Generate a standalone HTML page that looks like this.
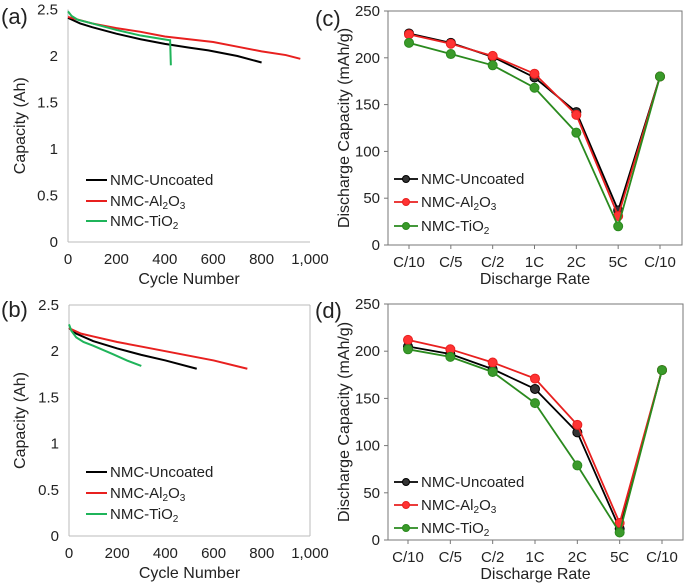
<!DOCTYPE html>
<html><head><meta charset="utf-8"><style>
body{margin:0;background:#fff;}
svg{display:block;font-family:"Liberation Sans",sans-serif;}
</style></head><body>
<svg id="c" width="685" height="586"></svg>
<script>
const cats=["C/10","C/5","C/2","1C","2C","5C","C/10"];
const cUnc=[226,216,201,179,142,37,180];
const cAl=[225,215,202,183,139,31,180];
const cTi=[216,204,192,168,120,20,180];
const dUnc=[205,197,181,160,114,12,180];
const dAl=[212,202,188,171,122,18,180];
const dTi=[202,194,178,145,79,8,180];
const aUncX=[0,50,100,200,300,400,500,580,700,800];
const aUncY=[2.41,2.35,2.31,2.24,2.18,2.13,2.09,2.06,2.00,1.93];
const aAlX=[0,100,200,300,400,500,600,700,800,900,960];
const aAlY=[2.42,2.35,2.30,2.26,2.21,2.18,2.15,2.10,2.05,2.01,1.97];
const aTiX=[0,15,40,100,200,300,420,422,425];
const aTiY=[2.48,2.43,2.39,2.35,2.28,2.22,2.17,2.17,1.90];
const bUncX=[0,30,100,200,300,400,530];
const bUncY=[2.25,2.19,2.11,2.03,1.96,1.90,1.81];
const bAlX=[0,50,100,200,300,400,500,600,740];
const bAlY=[2.25,2.19,2.16,2.10,2.05,2.00,1.95,1.90,1.81];
const bTiX=[0,10,30,60,100,180,240,300];
const bTiY=[2.29,2.22,2.15,2.10,2.06,1.97,1.90,1.84];
const capTicks=[0,0.5,1,1.5,2,2.5];
const capLabels=["0","0.5","1","1.5","2","2.5"];
const cycTicks=[0,200,400,600,800,1000];
const cycLabels=["0","200","400","600","800","1,000"];
const rateTicks=[0,50,100,150,200,250];
const svg=document.getElementById('c');
const NS="http://www.w3.org/2000/svg";
function mk(t,a,txt){const e=document.createElementNS(NS,t);for(const k in a)e.setAttribute(k,a[k]);if(txt!==undefined)e.innerHTML=txt;svg.appendChild(e);return e;}
const RED="#e8201f",BLK="#000",GRN="#1fb45a",DGRN="#2a8a1e";
const sub='NMC-Al<tspan font-size="10" dy="3">2</tspan><tspan dy="-3">O</tspan><tspan font-size="10" dy="3">3</tspan>';
const subT='NMC-TiO<tspan font-size="10" dy="3">2</tspan>';
function cycPanel(ox0,ox1,oy0,oy1,box,series,legY,lab,labY){
  const X=v=>ox0+(ox1-ox0)*v/1000, Y=v=>oy0-(oy0-oy1)*v/2.5;
  let e=mk('line',{x1:ox0,y1:oy0,x2:ox1,y2:oy0,stroke:"#bbb"});
  e=mk('line',{x1:ox0,y1:oy0,x2:ox0,y2:oy1,stroke:"#bbb"});
  if(box){mk('line',{x1:ox1,y1:oy0,x2:ox1,y2:oy1,stroke:"#bbb"});mk('line',{x1:ox0,y1:oy1,x2:ox1,y2:oy1,stroke:"#bbb"});}
  capTicks.forEach((t,i)=>{e=mk('text',{x:ox0-10,y:Y(t)+5,"text-anchor":"end","font-size":15,fill:"#222"},capLabels[i]);});
  cycTicks.forEach((t,i)=>{e=mk('text',{x:X(t),y:oy0+22,"text-anchor":"middle","font-size":15,fill:"#222"},cycLabels[i]);});
  e=mk('text',{x:(ox0+ox1)/2,y:oy0+42,"text-anchor":"middle","font-size":16,fill:"#222"},"Cycle Number");
  const cy=(oy0+oy1)/2;
  e=mk('text',{x:25,y:cy,"text-anchor":"middle","font-size":16,fill:"#222",transform:`rotate(-90 25 ${cy})`},"Capacity (Ah)");
  e=mk('text',{x:1,y:labY,"font-size":22,fill:"#222"},lab);
  series.forEach((s,i)=>{
    e=mk('polyline',{points:s.x.map((v,j)=>X(v)+","+Y(s.y[j])).join(" "),fill:"none",stroke:s.c,"stroke-width":2});
    
    mk('line',{x1:86,y1:legY[i],x2:107,y2:legY[i],stroke:s.c,"stroke-width":2});
    e=mk('text',{x:110,y:legY[i]+5,"font-size":15,fill:"#222"},s.n);
  });
}
function ratePanel(ox0,ox1,oy0,oy1,xa,xb,series,legY,lab,labY){
  const X=i=>xa+(xb-xa)*i/6, Y=v=>oy0-(oy0-oy1)*v/250;
  let e=mk('rect',{x:ox0,y:oy1,width:ox1-ox0,height:oy0-oy1,fill:"none",stroke:"#777"});
  rateTicks.forEach(t=>{mk('line',{x1:ox0,y1:Y(t),x2:ox0-4,y2:Y(t),stroke:"#777"});e=mk('text',{x:ox0-8,y:Y(t)+5,"text-anchor":"end","font-size":15,fill:"#222"},t);});
  cats.forEach((c,i)=>{mk('line',{x1:X(i),y1:oy0,x2:X(i),y2:oy0+4,stroke:"#777"});e=mk('text',{x:X(i),y:oy0+22,"text-anchor":"middle","font-size":15,fill:"#222"},c);});
  e=mk('text',{x:(ox0+ox1)/2,y:oy0+39,"text-anchor":"middle","font-size":16,fill:"#222"},"Discharge Rate");
  const cy=(oy0+oy1)/2;
  e=mk('text',{x:349,y:cy,"text-anchor":"middle","font-size":16,fill:"#222",transform:`rotate(-90 349 ${cy})`},"Discharge Capacity (mAh/g)");
  e=mk('text',{x:315,y:labY,"font-size":22,fill:"#222"},lab);
  series.forEach((s,k)=>{
    e=mk('polyline',{points:s.v.map((v,i)=>X(i)+","+Y(v)).join(" "),fill:"none",stroke:s.c,"stroke-width":1.8});
    
    s.v.forEach((v,i)=>{e=mk('circle',{cx:X(i),cy:Y(v),r:4.5,fill:s.f,stroke:s.c});});
    mk('line',{x1:394,y1:legY[k],x2:418,y2:legY[k],stroke:s.c,"stroke-width":1.8});
    mk('circle',{cx:406,cy:legY[k],r:3.5,fill:s.f,stroke:s.c});
    e=mk('text',{x:421,y:legY[k]+5,"font-size":15,fill:"#222"},s.n);
  });
}
cycPanel(68,310,242,9.5,false,[{x:aUncX,y:aUncY,c:BLK,n:"NMC-Uncoated"},{x:aAlX,y:aAlY,c:RED,n:sub},{x:aTiX,y:aTiY,c:GRN,n:subT}],[180,201,221],"(a)",24);
cycPanel(69,310,536,305,true,[{x:bUncX,y:bUncY,c:BLK,n:"NMC-Uncoated"},{x:bAlX,y:bAlY,c:RED,n:sub},{x:bTiX,y:bTiY,c:GRN,n:subT}],[472,493,514],"(b)",317);
ratePanel(388,682,245,11,409,660,[{v:cUnc,c:BLK,f:"#333",n:"NMC-Uncoated"},{v:cAl,c:RED,f:"#f33",n:sub},{v:cTi,c:DGRN,f:"#3a9a2a",n:subT}],[179,202,226],"(c)",26);
ratePanel(388,683,540,304,408,662,[{v:dUnc,c:BLK,f:"#333",n:"NMC-Uncoated"},{v:dAl,c:RED,f:"#f33",n:sub},{v:dTi,c:DGRN,f:"#3a9a2a",n:subT}],[482,505,528],"(d)",318);
</script>
</body></html>
